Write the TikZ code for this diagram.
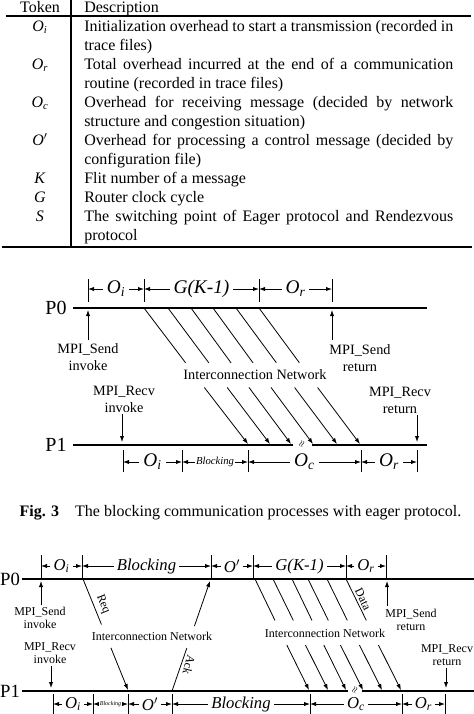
\documentclass[tikz,border=0pt]{standalone}
\usepackage{fontspec}
\setmainfont{Liberation Serif}
\usetikzlibrary{arrows.meta,calc}
\newcommand\jl[1]{\makebox[276.75pt][s]{#1}}
\newcommand\sbi[2]{\textit{#1}\textsubscript{\textit{#2}}}
\begin{document}
\begin{tikzpicture}[x=0.75pt,y=-0.75pt,
  every node/.style={inner sep=0pt},
  >={Latex[length=4.5pt,width=3.2pt]},
  tb/.style={font=\fontsize{12}{14}\selectfont, anchor=base west},
  tk/.style={font=\fontsize{12}{14}\selectfont, anchor=base},
  rule/.style={line width=0.8pt},
  proc/.style={line width=1.1pt},
  tick/.style={line width=0.6pt},
  dim/.style={line width=0.6pt,<->},
  slant/.style={line width=0.6pt},
  arr/.style={line width=0.6pt,->},
  dlA/.style={fill=white,inner xsep=3pt,inner ysep=1pt,font=\fontsize{14.5}{16}\selectfont\itshape},
  dlB/.style={fill=white,inner xsep=2.5pt,inner ysep=1pt,font=\fontsize{12.5}{14}\selectfont\itshape},
  smA/.style={fill=white,inner xsep=1pt,inner ysep=1pt,font=\fontsize{8}{9}\selectfont\itshape},
  smB/.style={fill=white,inner xsep=0.8pt,inner ysep=1pt,font=\fontsize{4.5}{5}\selectfont\itshape},
  mlA/.style={align=center,font=\fontsize{10.7}{12.75}\selectfont},
  mlB/.style={align=center,font=\fontsize{9}{9.75}\selectfont},
  plA/.style={font=\fontsize{15}{16}\selectfont},
  plB/.style={font=\fontsize{14}{15}\selectfont},
  brk/.style={rotate=70,font=\fontsize{6}{6}\selectfont},
]
\useasboundingbox (0,0) rectangle (474,714);

% ---------------- table ----------------
\draw[rule] (6,16) -- (471,16);
\draw[rule] (2,247) -- (472,247);
\draw[rule] (71,-2) -- (71,247);
\node[tk] (hTok) at (40,12) {Token};
\node[tb] (hDes) at (84,12) {Description};

\node[tk] (t1) at (40,31) {\sbi{O}{i}};
\node[tb] (d1a) at (84,31) {\jl{Initialization overhead to start a transmission (recorded in}};
\node[tb] (d1b) at (84,50) {trace files)};

\node[tk] (t2) at (40,69) {\sbi{O}{r}};
\node[tb] (d2a) at (84,69) {\jl{Total overhead incurred at the end of a communication}};
\node[tb] (d2b) at (84,88) {routine (recorded in trace files)};

\node[tk] (t3) at (40,107) {\sbi{O}{c}};
\node[tb] (d3a) at (84,107) {\jl{Overhead for receiving message (decided by network}};
\node[tb] (d3b) at (84,126) {structure and congestion situation)};

\node[tk] (t4) at (40,145) {\textit{O}$'$};
\node[tb] (d4a) at (84,145) {\jl{Overhead for processing a control message (decided by}};
\node[tb] (d4b) at (84,164) {configuration file)};

\node[tk] (t5) at (40,183) {\textit{K}};
\node[tb] (d5) at (84,183) {Flit number of a message};

\node[tk] (t6) at (40,202) {\textit{G}};
\node[tb] (d6) at (84,202) {Router clock cycle};

\node[tk] (t7) at (40,221) {\textit{S}};
\node[tb] (d7a) at (84,221) {\jl{The switching point of Eager protocol and Rendezvous}};
\node[tb] (d7b) at (84,240) {protocol};

% ---------------- figure 1 (eager) ----------------
\node[plA] (P0a) at (56,308) {P0};
\node[plA] (P1a) at (56,445) {P1};
\draw[proc] (73,308) -- (427,308);
\draw[proc] (73,445) -- (293,445);
\draw[proc] (312,445) -- (427,445);
\node[brk] (bkA) at (302,444) {$\approx$};

\foreach \x in {88,144,259,332} \draw[tick] (\x,279) -- (\x,302);
\draw[dim] (88,289) -- node[dlA] (a1) {\sbi{O}{i}} (144,289);
\draw[dim] (144,289) -- node[dlA] (a2) {G(K-1)} (259,289);
\draw[dim] (259,289) -- node[dlA] (a3) {\sbi{O}{r}} (332,289);

\foreach \x in {123,182,248,361,417} \draw[tick] (\x,450) -- (\x,472);
\draw[dim] (123,462) -- node[dlA] (b1) {\sbi{O}{i}} (182,462);
\draw[dim] (182,462) -- node[smA] (b2) {Blocking} (248,462);
\draw[dim] (248,462) -- node[dlA] (b3) {\sbi{O}{c}} (361,462);
\draw[dim] (361,462) -- node[dlA] (b4) {\sbi{O}{r}} (417,462);

\node[mlA] (siA) at (88,357) {MPI\_Send\\invoke};
\draw[arr] (88,340) -- (88,310);
\node[mlA] (srA) at (360,358) {MPI\_Send\\return};
\draw[arr] (332,340) -- (332,310);
\node[mlA] (riA) at (124,399) {MPI\_Recv\\invoke};
\draw[arr] (122,414) -- (122,442);
\node[mlA] (rrA) at (400,400) {MPI\_Recv\\return};
\draw[arr] (417,415) -- (417,442);

\node[mlA] (netA) at (255,375) {Interconnection Network};
\foreach \s/\e in {144/248,168/270,191/291,213/313,236/337,259/360} {
  \draw[slant] (\s,308) -- ($(\s,308)!0.4!(\e,445)$);
  \draw[arr] ($(\s,308)!0.58!(\e,445)$) -- (\e,444);
}

% caption
\node[font=\fontsize{12}{14}\selectfont] (cap) at (240.5,513)
  {\textbf{Fig. 3}\quad The blocking communication processes with eager protocol.};

% ---------------- figure 2 (rendezvous) ----------------
\node[plB] (P0b) at (10,579) {P0};
\node[plB] (P1b) at (10,691) {P1};
\draw[proc] (22,579) -- (474,579);
\draw[proc] (22,691) -- (348,691);
\draw[proc] (362,691) -- (474,691);
\node[brk] (bkB) at (355,690) {$\approx$};

\foreach \x in {41,82,211,253,346,386} \draw[tick] (\x,555) -- (\x,578);
\draw[dim] (41,566) -- node[dlB] (c1) {\sbi{O}{i}} (82,566);
\draw[dim] (82,566) -- node[dlB] (c2) {Blocking} (211,566);
\draw[dim] (211,566) -- node[dlB] (c3) {\textit{O}$'$} (253,566);
\draw[dim] (253,566) -- node[dlB] (c4) {G(K-1)} (346,566);
\draw[dim] (346,566) -- node[dlB] (c5) {\sbi{O}{r}} (386,566);

\foreach \x in {53,93,128,172,310,402,445} \draw[tick] (\x,694) -- (\x,716);
\draw[dim] (53,704) -- node[dlB] (e1) {\sbi{O}{i}} (93,704);
\draw[dim] (93,704) -- node[smB] (e2) {Blocking} (128,704);
\draw[dim] (128,704) -- node[dlB] (e3) {\textit{O}$'$} (172,704);
\draw[dim] (172,704) -- node[dlB] (e4) {Blocking} (310,704);
\draw[dim] (310,704) -- node[dlB] (e5) {\sbi{O}{c}} (402,704);
\draw[dim] (402,704) -- node[dlB] (e6) {\sbi{O}{r}} (445,704);

\node[mlB] (siB) at (40,618) {MPI\_Send\\invoke};
\draw[arr] (41,605) -- (41,581);
\node[mlB] (srB) at (411,620) {MPI\_Send\\return};
\draw[arr] (387,606) -- (387,581);
\node[mlB] (riB) at (50,653) {MPI\_Recv\\invoke};
\draw[arr] (51,666) -- (51,688);
\node[mlB] (rrB) at (447,655) {MPI\_Recv\\return};
\draw[arr] (446,668) -- (446,688);

\node[mlB] (netB1) at (152,636) {Interconnection Network};
\node[mlB] (netB2) at (325,633) {Interconnection Network};

% Req
\coordinate (rq0) at (83,579);
\coordinate (rq1) at (128,690);
\draw[slant] (rq0) -- ($(rq0)!0.41!(rq1)$);
\draw[arr] ($(rq0)!0.62!(rq1)$) -- (rq1);
\node[mlB,rotate=-68] (req) at (103,604) {Req};
% Ack
\coordinate (ak0) at (172,691);
\coordinate (ak1) at (210,581);
\draw[slant] (ak0) -- ($(ak0)!0.39!(ak1)$);
\draw[arr] ($(ak0)!0.59!(ak1)$) -- (ak1);
\node[mlB,rotate=-105] (ack) at (189,665) {Ack};
% Data
\foreach \s/\e in {255/309,273/328,292/346,308/363,327/382,346/401} {
  \draw[slant] (\s,579) -- ($(\s,579)!0.37!(\e,691)$);
  \draw[arr] ($(\s,579)!0.59!(\e,691)$) -- (\e,690);
}
\node[mlB,rotate=-64] (data) at (363,599) {Data};
\end{tikzpicture}
\end{document}
